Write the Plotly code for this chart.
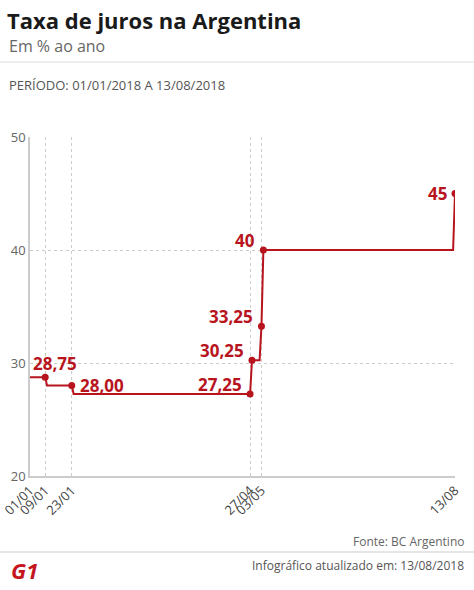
import plotly.graph_objects as go

line_dates = ["2018-01-01","2018-01-09","2018-01-10","2018-01-23","2018-01-24","2018-04-27","2018-04-28","2018-05-02","2018-05-03","2018-05-04","2018-08-12","2018-08-13"]
line_rates = [28.75,28.75,28.00,28.00,27.25,27.25,30.25,30.25,33.25,40.00,40.00,45.00]
mark_dates = ["2018-01-09","2018-01-23","2018-04-27","2018-04-28","2018-05-03","2018-05-04","2018-08-13"]
mark_rates = [28.75,28.00,27.25,30.25,33.25,40.00,45.00]
mark_labels = ["28,75","28,00","27,25","30,25","33,25","40","45"]
label_pos = ["topright","right","left","left","left","left","left"]
tick_dates = ["2018-01-01","2018-01-09","2018-01-23","2018-04-27","2018-05-03","2018-08-13"]
tick_text = ["01/01","09/01","23/01","27/04","03/05","13/08"]
y_ticks = [20,30,40,50]

RED = "#b8141e"
fig = go.Figure()
fig.add_trace(go.Scatter(x=line_dates, y=line_rates, mode="lines", line=dict(color=RED, width=2), hoverinfo="skip"))
fig.add_trace(go.Scatter(x=mark_dates, y=mark_rates, mode="markers", marker=dict(color=RED, size=7)))

for d, v, t, p in zip(mark_dates, mark_rates, mark_labels, label_pos):
    if p == "topright":
        fig.add_annotation(x=d, y=v, text=t, showarrow=False, xanchor="center", yanchor="bottom", yshift=0, xshift=10)
    elif p == "right":
        fig.add_annotation(x=d, y=v, text=t, showarrow=False, xanchor="left", xshift=6)
    else:
        fig.add_annotation(x=d, y=v, text=t, showarrow=False, xanchor="right", xshift=-6, yshift=10 if v < 45 else 0)
fig.update_annotations(font=dict(color=RED, size=17, family="Open Sans", weight="bold"))

def txt(x, y, s, size, color, anchor="left"):
    fig.add_annotation(xref="paper", yref="paper", x=x, y=y, text=s, showarrow=False, xanchor=anchor,
                       yanchor="middle", font=dict(size=size, color=color, family="Open Sans"))

txt(-0.06, 1.345, "<b>Taxa de juros na Argentina</b>", 22, "#1a1a1a")
txt(-0.055, 1.268, "Em % ao ano", 16, "#666")
txt(-0.055, 1.153, "PERÍODO: 01/01/2018 A 13/08/2018", 13, "#555")
txt(1.026, -0.192, "Fonte: BC Argentino", 12, "#666", "right")
txt(1.026, -0.265, "Infográfico atualizado em: 13/08/2018", 12, "#555", "right")
txt(-0.05, -0.277, "<b><i>G1</i></b>", 22, "#c4161c")
fig.add_shape(type="line", xref="paper", yref="paper", x0=-0.1, x1=1.1, y0=1.221, y1=1.221, line=dict(color="#ddd", width=1))
fig.add_shape(type="line", xref="paper", yref="paper", x0=-0.1, x1=1.1, y0=-0.224, y1=-0.224, line=dict(color="#ddd", width=1.5))

fig.update_layout(
    width=474, height=590, margin=dict(l=30, r=19, t=137, b=114),
    plot_bgcolor="white", paper_bgcolor="white", showlegend=False,
    font=dict(family="Open Sans", color="#555"),
)
fig.update_xaxes(range=["2018-01-01","2018-08-13"], tickvals=tick_dates, ticktext=tick_text, tickangle=-45,
                 showgrid=True, gridcolor="#ccc", griddash="dot", gridwidth=1, automargin=False,
                 showline=True, linecolor="#ccc", linewidth=1.5, tickfont=dict(size=13, color="#444"), zeroline=False)
fig.update_yaxes(range=[20,50], tickvals=y_ticks, showgrid=True, gridcolor="#ccc", griddash="dot", automargin=False,
                 showline=True, linecolor="#ccc", linewidth=1.5, tickfont=dict(size=13, color="#666"), zeroline=False)
fig.write_html("out.html", config={"displayModeBar": False},
               post_script="document.body.style.margin='0';document.body.style.overflow='hidden';")
